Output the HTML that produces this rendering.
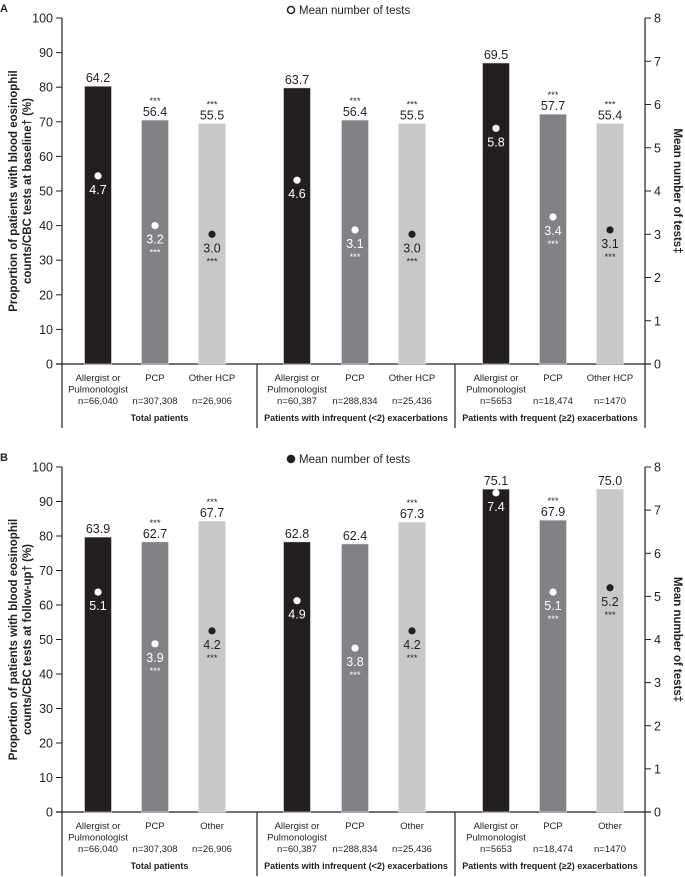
<!DOCTYPE html>
<html><head><meta charset="utf-8"><style>
body{margin:0;background:#fff;}
svg{display:block;font-family:"Liberation Sans",Arial,sans-serif;}
</style></head><body>
<svg id="chart" width="685" height="877" viewBox="0 0 685 877"></svg>
<script>
const categories=["Allergist or Pulmonologist","PCP","Other HCP"];
const groupLabels=["Total patients","Patients with infrequent (<2) exacerbations","Patients with frequent (≥2) exacerbations"];
const nLabelsA=[["n=66,040","n=307,308","n=26,906"],["n=60,387","n=288,834","n=25,436"],["n=5653","n=18,474","n=1470"]];
const nLabelsB=nLabelsA;
const catNamesB=["Allergist or Pulmonologist","PCP","Other"];
// Panel A
const barHeightsA=[[80.3,70.5,69.5],[79.8,70.5,69.5],[87,72.2,69.5]];
const barTextA=[["64.2","56.4","55.5"],["63.7","56.4","55.5"],["69.5","57.7","55.4"]];
const topStarsA=[[0,1,1],[0,1,1],[0,1,1]];
const dotValsA=[[4.35,3.2,3.0],[4.25,3.1,3.0],[5.45,3.4,3.1]];
const dotTextA=[["4.7","3.2","3.0"],["4.6","3.1","3.0"],["5.8","3.4","3.1"]];
const botStarsA=[[0,1,1],[0,1,1],[0,1,1]];
// Panel B
const barHeightsB=[[79.7,78.3,84.3],[78.3,77.7,84.0],[93.6,84.6,93.6]];
const barTextB=[["63.9","62.7","67.7"],["62.8","62.4","67.3"],["75.1","67.9","75.0"]];
const topStarsB=[[0,1,1],[0,0,1],[0,1,0]];
const dotValsB=[[5.1,3.9,4.2],[4.9,3.8,4.2],[7.4,5.1,5.2]];
const dotTextB=[["5.1","3.9","4.2"],["4.9","3.8","4.2"],["7.4","5.1","5.2"]];
const botStarsB=[[0,1,1],[0,1,1],[0,1,1]];
const leftTicks=[0,10,20,30,40,50,60,70,80,90,100];
const rightTicks=[0,1,2,3,4,5,6,7,8];

const NS="http://www.w3.org/2000/svg";
const svg=document.getElementById('chart');
function el(tag,attrs,parent,text){const e=document.createElementNS(NS,tag);for(const k in attrs)e.setAttribute(k,attrs[k]);if(text!==undefined)e.textContent=text;(parent||svg).appendChild(e);return e;}
const colors=["#231f20","#808285","#c7c8ca"];
const X0=62,X1=645;
const centers=[[98,155,212],[297,355,412],[496,553,610]];
const seps=[257,455];

function panel(o){
  const g=el('g',{});
  
  
  const yL=v=>o.y0-(v/100)*(o.y0-o.yTop);
  const yR=v=>o.y0-(v/8)*(o.y0-o.yTop);
  const t=el('text',{x:0,y:o.yTop-6,'font-size':11,'font-weight':'bold',fill:'#231f20'},g,o.letter);
  
  const lg=el('g',{},g);
  
  el('circle',{cx:291,cy:o.yTop-8,r:3.5,fill:o.hollow?'#fff':'#231f20',stroke:'#231f20','stroke-width':1.5},lg);
  el('text',{x:299,y:o.yTop-4,'font-size':11.5,fill:'#231f20'},lg,'Mean number of tests');
  const la=el('line',{x1:X0,y1:o.yTop,x2:X0,y2:o.yBot,stroke:'#231f20','stroke-width':1.2},g);
  
  const ra=el('line',{x1:X1,y1:o.yTop,x2:X1,y2:o.yBot,stroke:'#231f20','stroke-width':1.2},g);
  
  const xa=el('line',{x1:X0-6,y1:o.y0,x2:X1+6,y2:o.y0,stroke:'#231f20','stroke-width':1.2},g);
  
  seps.forEach(s=>{const l=el('line',{x1:s,y1:o.y0,x2:s,y2:o.yBot,stroke:'#231f20','stroke-width':1.2},g);
    });
  leftTicks.forEach(v=>{el('line',{x1:X0-6,y1:yL(v),x2:X0,y2:yL(v),stroke:'#231f20'},g);
    const tt=el('text',{x:X0-9,y:yL(v)+4.5,'font-size':12.5,'text-anchor':'end',fill:'#231f20'},g,String(v));
    });
  rightTicks.forEach(v=>{el('line',{x1:X1,y1:yR(v),x2:X1+6,y2:yR(v),stroke:'#231f20'},g);
    const tt=el('text',{x:X1+9,y:yR(v)+4.5,'font-size':12.5,fill:'#231f20'},g,String(v));
    });
  const mid=(o.yTop+o.y0)/2;
  const yt=el('text',{transform:`translate(17,${mid}) rotate(-90)`,'font-size':11.5,'font-weight':'bold','text-anchor':'middle',fill:'#231f20'},g);
  
  el('tspan',{x:0,y:0},yt,'Proportion of patients with blood eosinophil');
  el('tspan',{x:0,y:14},yt,o.ytitle2);
  const rt=el('text',{transform:`translate(674,${mid}) rotate(90)`,'font-size':11.5,'font-weight':'bold','text-anchor':'middle',fill:'#231f20'},g,'Mean number of tests‡');
  
  for(let gi=0;gi<3;gi++){
    const gl=el('text',{x:(gi==0?X0:seps[gi-1])+((gi==2?X1:seps[gi])-(gi==0?X0:seps[gi-1]))/2,y:o.y0+57,'font-size':9,'font-weight':'bold','text-anchor':'middle',fill:'#231f20'},g,groupLabels[gi]);
    
    for(let ci=0;ci<3;ci++){
      const cx=centers[gi][ci],h=o.bars[gi][ci],top=yL(h);
      const b=el('rect',{x:cx-13.5,y:top,width:27,height:o.y0-top,fill:colors[ci],stroke:'#e6e6e6','stroke-width':0.6},g);
      
      const vt=el('text',{x:cx,y:top-4,'font-size':12.5,'text-anchor':'middle',fill:'#231f20'},g,o.barText[gi][ci]);
      
      if(o.topStars[gi][ci]){const s=el('text',{x:cx,y:top-16,'font-size':9.5,'text-anchor':'middle',fill:'#231f20'},g,'***');
        }
      const dy=yR(o.dots[gi][ci]);const light=ci==2;
      const d=el('circle',{cx:cx,cy:dy,r:3.6,fill:light?'#231f20':'#fff'},g);
      
      const dt=el('text',{x:cx,y:dy+18,'font-size':12.5,'text-anchor':'middle',fill:light?'#231f20':'#fff'},g,o.dotText[gi][ci]);
      
      if(o.botStars[gi][ci]){const s=el('text',{x:cx,y:dy+30,'font-size':9.5,'text-anchor':'middle',fill:light?'#231f20':'#fff'},g,'***');
        }
      const name=o.cats[ci];
      const lines=name.includes(' or ')?['Allergist or','Pulmonologist']:[name];
      lines.forEach((ln,k)=>{const c=el('text',{x:cx,y:o.y0+17+k*11.5,'font-size':9.5,'text-anchor':'middle',fill:'#231f20'},g,ln);
        });
      const n=el('text',{x:cx,y:o.y0+40,'font-size':9.5,'text-anchor':'middle',fill:'#231f20'},g,o.nLabels[gi][ci]);
      
    }
  }
}
panel({name:'panel-a',letter:'A',yTop:18,y0:364,yBot:428,hollow:true,ytitle2:'counts/CBC tests at baseline† (%)',bars:barHeightsA,barText:barTextA,topStars:topStarsA,dots:dotValsA,dotText:dotTextA,botStars:botStarsA,cats:categories,nLabels:nLabelsA});
panel({name:'panel-b',letter:'B',yTop:467,y0:812,yBot:876,hollow:false,ytitle2:'counts/CBC tests at follow-up† (%)',bars:barHeightsB,barText:barTextB,topStars:topStarsB,dots:dotValsB,dotText:dotTextB,botStars:botStarsB,cats:catNamesB,nLabels:nLabelsB});
</script>
</body></html>
